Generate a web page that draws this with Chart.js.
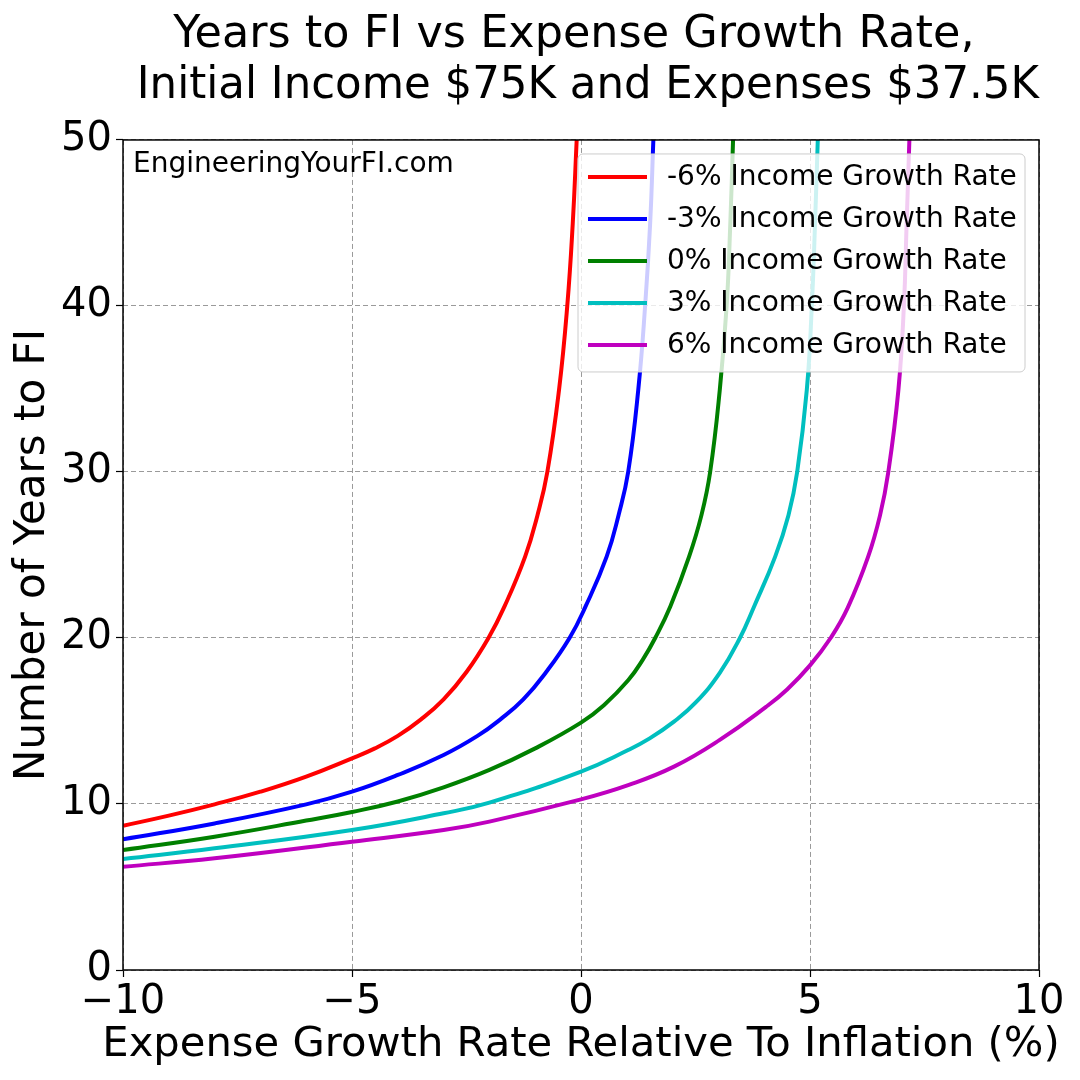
<!DOCTYPE html>
<html>
<head>
<meta charset="utf-8">
<script src="https://cdn.jsdelivr.net/npm/chart.js@4.4.0/dist/chart.umd.min.js"></script>
<style>
  body { margin: 0; background: #fff; }
</style>
</head>
<body>
<canvas id="fiChart" width="1080" height="1080"></canvas>
<script>
// values (x = expense growth %, y = years to FI)
var seriesLabels = ['-6% Income Growth Rate', '-3% Income Growth Rate', '0% Income Growth Rate',
                    '3% Income Growth Rate', '6% Income Growth Rate'];
var seriesColors = ['#ff0000', '#0000ff', '#008000', '#00bfbf', '#bf00bf'];

var expenseM6 = [-10, -9, -8, -7, -6, -5, -4.5, -4, -3.5, -3, -2.5, -2.02, -1.67, -1.22, -0.95, -0.735, -0.48, -0.3, -0.18, -0.094];
var yearsM6   = [8.69, 9.3, 9.98, 10.74, 11.65, 12.75, 13.35, 14.1, 15.08, 16.3, 17.95, 20, 21.9, 24.9, 27.4, 30, 34.94, 40, 44.98, 50];

var expenseM3 = [-10, -8, -6, -5, -4, -3, -2.26, -1.76, -1.26, -0.76, -0.25, 0.1, 0.56, 0.82, 1.03, 1.25, 1.4, 1.51, 1.58];
var yearsM3   = [7.87, 8.83, 9.98, 10.74, 11.75, 12.95, 14.1, 15.1, 16.3, 17.95, 20, 21.9, 24.9, 27.4, 30, 34.94, 40, 44.98, 50];

var expense0 = [-10, -8, -6, -5, -4, -3, -2, -1, 0, 0.5, 1.03, 1.35, 1.62, 1.95, 2.36, 2.63, 2.82, 3.03, 3.18, 3.26, 3.32];
var years0   = [7.23, 8.03, 9.0, 9.52, 10.15, 11.0, 12.05, 13.35, 14.9, 15.95, 17.45, 18.7, 20, 21.9, 24.9, 27.4, 30, 34.94, 40, 44.98, 50];

var expenseP3 = [-10, -8, -5, -3, -2, 0, 1.03, 1.5, 2.03, 2.5, 3.03, 3.47, 3.78, 4.24, 4.53, 4.72, 4.93, 5.04, 5.11, 5.17];
var yearsP3   = [6.69, 7.33, 8.43, 9.44, 10.08, 11.95, 13.25, 13.95, 14.96, 16.1, 17.9, 20, 21.9, 24.9, 27.4, 30, 34.94, 40, 44.98, 50];

var expenseP6 = [-10, -8, -5, -3, -2, 0, 1.03, 2.03, 3.03, 4.04, 4.5, 5.0, 5.45, 5.82, 6.27, 6.53, 6.71, 6.93, 7.05, 7.11, 7.17];
var yearsP6   = [6.22, 6.73, 7.73, 8.43, 8.94, 10.28, 11.14, 12.25, 13.86, 15.85, 16.9, 18.35, 20, 21.8, 24.9, 27.4, 30, 34.94, 40, 44.98, 50];

var xTicks = [-10, -5, 0, 5, 10];
var yTicks = [0, 10, 20, 30, 40, 50];

var titleLines = ['Years to FI vs Expense Growth Rate, ', ' Initial Income $75K and Expenses $37.5K'];
var xTitle = 'Expense Growth Rate Relative To Inflation (%)';
var yTitle = 'Number of Years to FI';
var watermark = 'EngineeringYourFI.com';

var FONT = '"DejaVu Sans", "Liberation Sans", sans-serif';

function toPoints(xs, ys) {
    return xs.map(function(x, i) { return { x: x, y: ys[i] }; });
}

var allX = [expenseM6, expenseM3, expense0, expenseP3, expenseP6];
var allY = [yearsM6, yearsM3, years0, yearsP3, yearsP6];

var datasets = seriesLabels.map(function(label, i) {
    return {
        label: label,
        data: toPoints(allX[i], allY[i]),
        borderColor: seriesColors[i],
        backgroundColor: seriesColors[i],
        borderWidth: 4,
        pointRadius: 0,
        fill: false,
        tension: 0.45
    };
});

// frame, watermark, x axis title (wider than the plot) and matplotlib-like legend box
var decorPlugin = {
    id: 'decor',
    afterDatasetsDraw: function(chart) {
        var ctx = chart.ctx;
        var a = chart.chartArea;
        ctx.save();
        ctx.strokeStyle = '#000';
        ctx.lineWidth = 1.5;
        ctx.strokeRect(a.left, a.top, a.right - a.left, a.bottom - a.top);

        ctx.fillStyle = '#000';
        ctx.font = '28px ' + FONT;
        ctx.textBaseline = 'alphabetic';
        ctx.textAlign = 'left';
        ctx.fillText(watermark, a.left + 10, a.top + 32);

        ctx.font = '41.7px ' + FONT;
        ctx.textAlign = 'center';
        ctx.fillText(xTitle, (a.left + a.right) / 2, chart.height - 24);

        var bx = a.right - 461, by = a.top + 14, bw = 447, bh = 218;
        ctx.beginPath();
        ctx.roundRect(bx, by, bw, bh, 5);
        ctx.fillStyle = 'rgba(255,255,255,0.8)';
        ctx.fill();
        ctx.strokeStyle = '#cccccc';
        ctx.lineWidth = 1;
        ctx.stroke();

        ctx.font = '28px ' + FONT;
        ctx.textAlign = 'left';
        ctx.textBaseline = 'middle';
        chart.data.datasets.forEach(function(ds, i) {
            var ly = by + 23 + 42 * i;
            ctx.beginPath();
            ctx.moveTo(bx + 10, ly);
            ctx.lineTo(bx + 69, ly);
            ctx.strokeStyle = ds.borderColor;
            ctx.lineWidth = 4;
            ctx.stroke();
            ctx.fillStyle = '#000';
            ctx.fillText(ds.label, bx + 89, ly + 1);
        });
        ctx.restore();
    }
};

document.addEventListener("DOMContentLoaded", function() {
    var ctx = document.getElementById('fiChart').getContext('2d');

    var fiChart = new Chart(ctx, {
        type: 'line',
        data: { datasets: datasets },
        plugins: [decorPlugin],
        options: {
            responsive: false,
            animation: false,
            layout: { padding: { left: 0, right: 41, top: 0, bottom: 0 } },
            plugins: {
                legend: { display: false },
                tooltip: { enabled: false },
                title: {
                    display: true,
                    fullSize: false,
                    text: titleLines,
                    color: '#000',
                    font: { family: FONT, size: 44.5, weight: 'normal', lineHeight: 1.14 },
                    padding: { top: 10, bottom: 28.5 }
                }
            },
            scales: {
                x: {
                    type: 'linear',
                    min: xTicks[0],
                    max: xTicks[xTicks.length - 1],
                    afterBuildTicks: function(scale) {
                        scale.ticks = xTicks.map(function(v) { return { value: v }; });
                    },
                    afterFit: function(scale) { scale.height = 110; },
                    ticks: {
                        color: '#000',
                        font: { family: FONT, size: 40 },
                        padding: 2,
                        maxRotation: 0,
                        callback: function(v) { return String(v).replace('-', '\u2212'); }
                    },
                    grid: { color: '#808080', lineWidth: 0.8, tickColor: '#000', tickLength: 7, tickWidth: 1.2 },
                    border: { display: false, dash: [5, 3] },
                    title: { display: false }
                },
                y: {
                    type: 'linear',
                    min: yTicks[0],
                    max: yTicks[yTicks.length - 1],
                    afterBuildTicks: function(scale) {
                        scale.ticks = yTicks.map(function(v) { return { value: v }; });
                    },
                    afterFit: function(scale) { scale.width = 123; },
                    ticks: {
                        color: '#000',
                        font: { family: FONT, size: 40 },
                        padding: 4
                    },
                    grid: { color: '#808080', lineWidth: 0.8, tickColor: '#000', tickLength: 7, tickWidth: 1.2 },
                    border: { display: false, dash: [5, 3] },
                    title: {
                        display: true, text: yTitle, color: '#000',
                        font: { family: FONT, size: 42 }, padding: { top: 8, bottom: 0 }
                    }
                }
            }
        }
    });
});
</script>
</body>
</html>
